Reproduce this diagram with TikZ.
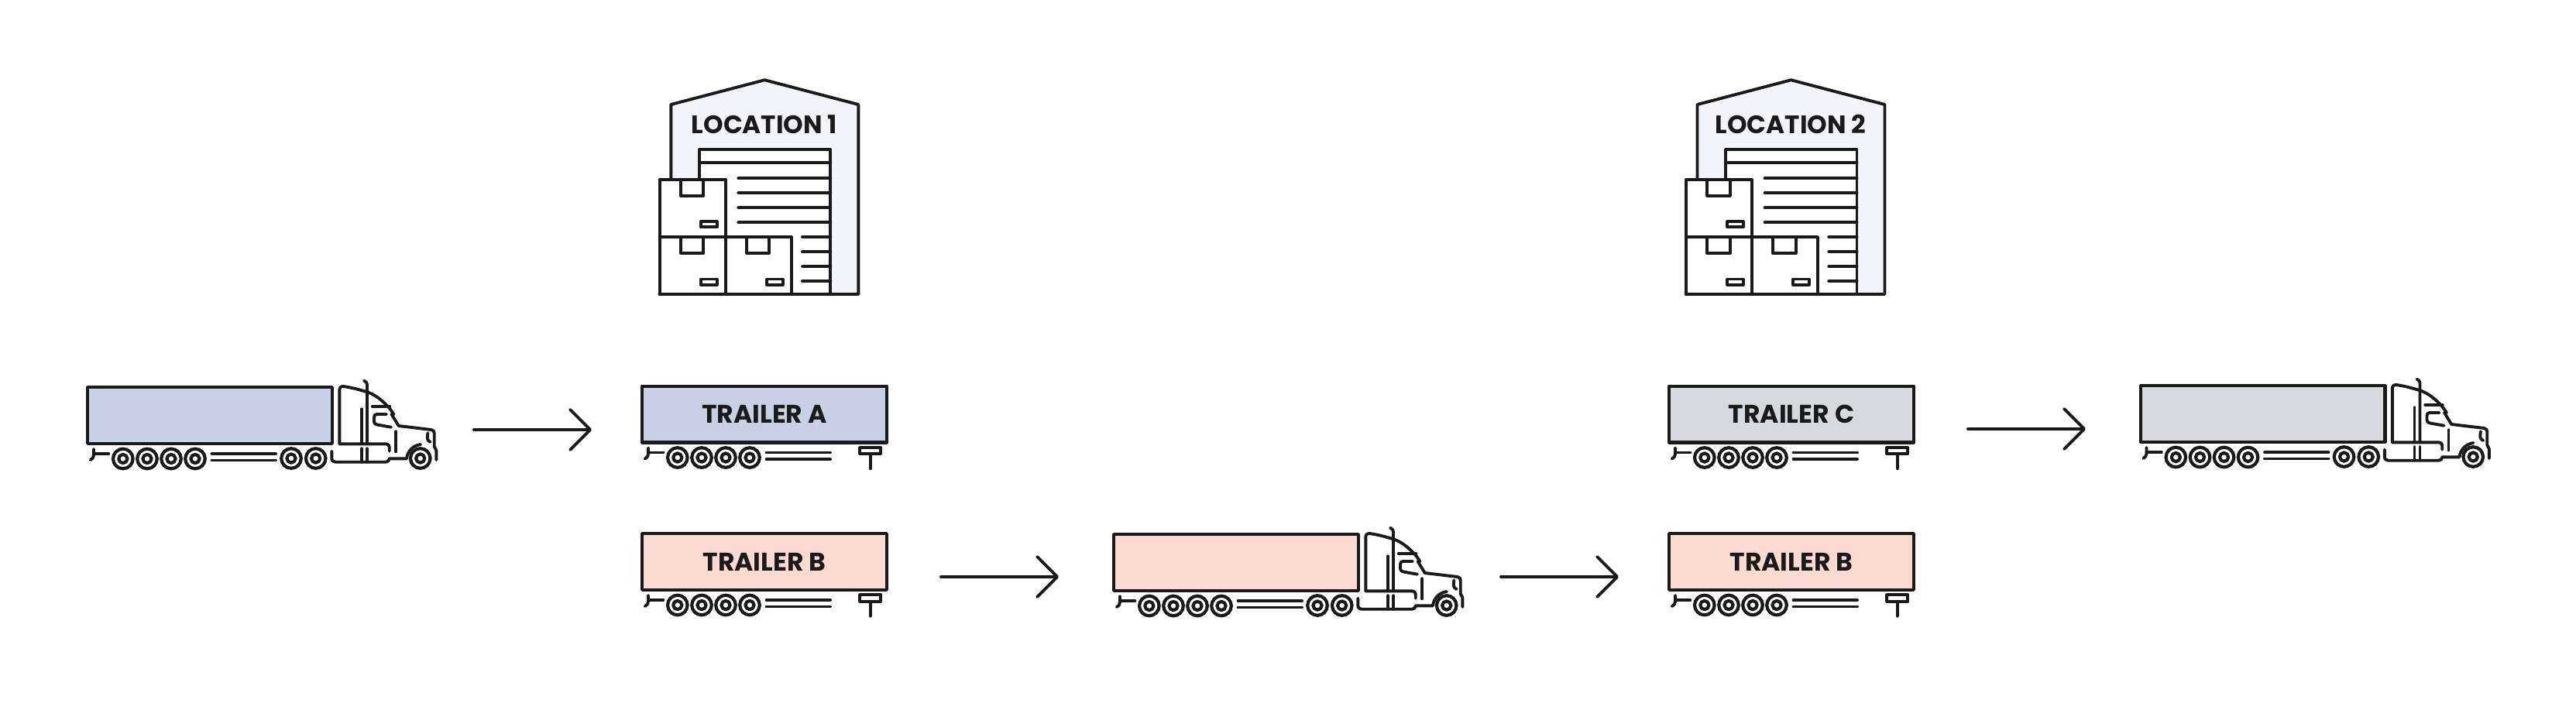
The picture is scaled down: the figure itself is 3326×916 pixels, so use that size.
\documentclass[tikz,border=0pt]{standalone}
\usepackage{fontspec}
\setmainfont{Poppins SemiBold}
\newfontfamily\trailerfont{Poppins}[BoldFont={Poppins Bold}]
\usetikzlibrary{arrows.meta}
\definecolor{ink}{HTML}{1A1A1A}
\definecolor{cblue}{HTML}{C7D0E5}
\definecolor{cpink}{HTML}{FCDAD2}
\definecolor{cgray}{HTML}{D6D9DE}
\definecolor{cwall}{HTML}{F3F4F9}
\tikzset{
  ln/.style={draw=ink,line width=3.9pt,line cap=round,line join=round},
  cargo/.style={draw=ink,line width=4.4pt,line join=round,anchor=center,minimum width=315.6pt,minimum height=72.6pt,inner sep=0pt,
     text=ink,font=\fontsize{33}{36}\selectfont\trailerfont\bfseries},
  loclabel/.style={text=ink,inner sep=0pt,font=\fontsize{32.6}{36}\selectfont\trailerfont\bfseries},
  flow/.style={ln,line width=3.9pt,-{Straight Barb[length=26pt,width=52pt,line width=3.9pt,round]}},
  carton/.pic={
    \draw[ln,fill=white] (0,0) rectangle (85,74.3);
    \draw[ln] (27.3,0) -- (27.3,21) -- (56.7,21) -- (56.7,0);
    \draw[ln] (53.3,54.5) rectangle (74,61.7);
  },
  wheel/.pic={
    \draw[ln,line width=4.2pt] (0,0) circle (12.8);
    \draw[ln,line width=4.2pt] (0,0) circle (5.6);
  },
  gear/.pic={
    \draw[ln] (9,81) -- (9,89) .. controls (9,92) and (7,94) .. (4.7,95);
    \draw[ln] (9,87) -- (28.3,87);
    \foreach \wx in {46.8,78,109,140} \pic at (\wx,93.5) {wheel};
    \draw[ln] (161.5,87) -- (244,87);
    \draw[ln] (161.5,95.5) -- (244,95.5);
  },
  leg/.pic={
    \draw[ln] (282.3,80.3) rectangle (309.3,88.7);
    \draw[ln] (295.7,88.7) -- (295.7,107.7);
  },
  cab/.pic={
    \foreach \wx in {264,295.7,430.7} \pic at (\wx,93) {wheel};
    \draw[ln] (326.3,74.3) -- (326.3,5) .. controls (326.3,1.5) and (328,0) .. (331.3,0)
      .. controls (345,2) and (352,4.5) .. (361.3,7) .. controls (370,10) and (376,14) .. (383,20.3)
      .. controls (387,24) and (390,27) .. (393,31) -- (396.3,36) -- (393.5,36) -- (402.7,51)
      -- (444.7,56) .. controls (447.5,56.5) and (448.7,58) .. (448.7,60.3) -- (448.7,77.7) -- (451.3,82.7) -- (451.3,95);
    \draw[ln] (326.3,74.3) -- (386.3,74.3) .. controls (389,74.3) and (390.7,76) .. (390.7,78.3) -- (390.7,83.7);
    \draw[ln] (358,-7.3) .. controls (360.5,-6.3) and (362,-4.5) .. (362,-2.3) -- (362,74.3);
    \draw[ln] (362,80.3) -- (362,97.7);
    \draw[ln] (355,29.3) -- (355,74.3);
    \draw[ln] (355,80.3) -- (355,97.7);
    \draw[ln] (316.3,83.7) -- (316.3,92.7) .. controls (316.3,96) and (318,97.7) .. (321,97.7)
      -- (386,97.7) .. controls (389,97.7) and (390.7,96) .. (390.7,93.3) -- (413,93.3)
      .. controls (414,84) and (421,76.5) .. (431,75);
    \draw[ln] (368.7,26) -- (391.3,26);
    \draw[ln] (387,36) -- (374.5,36) .. controls (372,36) and (371,37.5) .. (371,40) -- (371,45.5)
      .. controls (371,48) and (372.5,49) .. (375,49.5) -- (393,52.7);
    \draw[ln] (399,58.3) -- (399,84.3);
    \draw[ln] (440.3,60.3) -- (439.7,67) .. controls (440,69.5) and (441.5,71) .. (443.7,72);
  },
  depot/.pic={
    \draw[ln,fill=cwall] (-121,231.7) -- (-121,135) -- (0,103.3) -- (121,135) -- (121,380) -- (-136,380);
    \fill[white] (-84.5,193.3) rectangle (85,380);
    \draw[ln] (-84.5,231.7) -- (-84.5,193.3) -- (85,193.3) -- (85,380);
    \draw[ln] (-84.5,210) -- (85,210);
    \foreach \sy in {230.3,249.3,268.3,287.3} \draw[ln] (-34,\sy) -- (85,\sy);
    \foreach \sy in {306,325.3,344.3,363.3} \draw[ln] (48.7,\sy) -- (85,\sy);
    \pic at (-135.6,231.7) {carton};
    \pic at (-135.6,306) {carton};
    \pic at (-50.6,306) {carton};
    \draw[ln] (85,380) -- (-135.6,380);
  }
}
\begin{document}
\begin{tikzpicture}[x=1pt,y=-1pt]
\useasboundingbox (0,0) rectangle (3326,916);
\fill[white] (0,0) rectangle (3326,916);
% warehouses
\pic (depotA) at (987.3,0) {depot};
\pic (depotB) at (2312.5,0) {depot};
\node[loclabel] (locA) at (987,160.5) {LOCATION 1};
\node[loclabel] (locB) at (2312,160.5) {LOCATION 2};
% trucks
\node[cargo,fill=cblue] (truckA) at (271,536.5) {};
\pic (gearTA) at (112,499) {gear}; \pic (cabTA) at (112,499) {cab};
\node[cargo,fill=cpink] (truckB) at (1596,726.5) {};
\pic (gearTB) at (1437,689) {gear}; \pic (cabTB) at (1437,689) {cab};
\node[cargo,fill=cgray] (truckC) at (2921.5,534.5) {};
\pic (gearTC) at (2762.5,497) {gear}; \pic (cabTC) at (2762.5,497) {cab};
% trailers
\node[cargo,fill=cblue] (trailerA) at (987,535) {TRAILER A};
\pic (gearA) at (828,497.5) {gear}; \pic (legA) at (828,497.5) {leg};
\node[cargo,fill=cpink] (trailerB) at (987,725.5) {TRAILER B};
\pic (gearB) at (828,688) {gear}; \pic (legB) at (828,688) {leg};
\node[cargo,fill=cpink] (trailerBB) at (2313,725.5) {TRAILER B};
\pic (gearBB) at (2154,688) {gear}; \pic (legBB) at (2154,688) {leg};
\node[cargo,fill=cgray] (trailerC) at (2313,535) {TRAILER C};
\pic (gearC) at (2154,497.5) {gear}; \pic (legC) at (2154,497.5) {leg};
% arrows
\coordinate (a1s) at (612,555); \coordinate (a1e) at (764,555);
\coordinate (a2s) at (1215,745); \coordinate (a2e) at (1367,745);
\coordinate (a3s) at (1938,745); \coordinate (a3e) at (2090,745);
\coordinate (a4s) at (2541,554); \coordinate (a4e) at (2693,554);
\draw[flow] (a1s) -- (a1e);
\draw[flow] (a2s) -- (a2e);
\draw[flow] (a3s) -- (a3e);
\draw[flow] (a4s) -- (a4e);
\end{tikzpicture}
\end{document}
